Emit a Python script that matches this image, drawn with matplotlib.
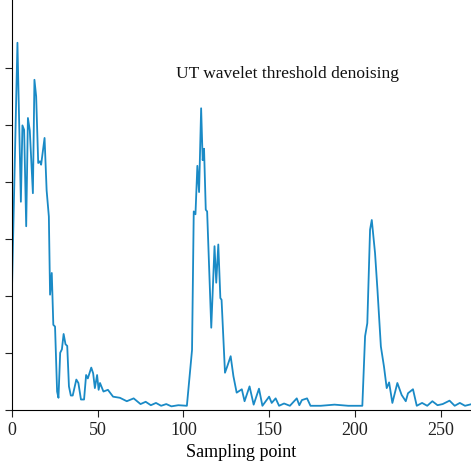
import matplotlib.pyplot as plt

# sample index and denoised amplitude
sample = [0, 3.3, 5.3, 6.2, 7.2, 8.4, 9.4, 10.5, 12.3, 13.2, 14.2, 15.4, 16.4, 17.1,
          19.1, 20.3, 21.6, 22.3, 23.3, 24.2, 25.2, 26.4, 27.2, 28.2, 29.2, 30.2,
          31.3, 32.3, 33.3, 34.4, 35.5, 37.6, 38.8, 40.3, 42.1, 43.3, 44.3, 46.3,
          47.4, 48.4, 49.7, 50.6, 51.4, 53.4, 56, 59, 63, 67, 71, 75, 78, 81, 84,
          87, 90, 93, 97, 102,
          105, 106, 107, 108.1, 109.1, 110.3, 111.2, 112, 113, 113.8, 116.2, 118.1,
          119.1, 120.3, 121.5, 122.2, 124.2, 125.5, 127.5, 129.1, 131, 134, 135.6,
          138.5, 140.9, 144, 146, 149.9, 151.4, 153.7, 155.7, 158.6, 162, 166, 167.5,
          169, 172, 174, 180, 188, 196, 204.2,
          205.8, 207.1, 208.7, 209.7, 211.6, 213, 215, 216.8, 218.4, 219.8, 221.7,
          224.6, 227.1, 229.5, 230.8, 233.7, 235.9, 239, 242, 245, 248, 251, 255,
          258, 261, 264, 268]
amplitude = [1.96, 6.44, 3.65, 4.99, 4.91, 3.22, 5.12, 4.9, 3.8, 5.79, 5.5, 4.33, 4.36, 4.3,
             4.77, 3.85, 3.39, 2.02, 2.40, 1.49, 1.46, 0.32, 0.21, 1.0, 1.06, 1.33,
             1.15, 1.12, 0.41, 0.25, 0.25, 0.53, 0.47, 0.18, 0.18, 0.61, 0.55, 0.74,
             0.64, 0.38, 0.61, 0.35, 0.47, 0.32, 0.35, 0.23, 0.21, 0.15, 0.2, 0.1, 0.14,
             0.08, 0.12, 0.07, 0.1, 0.06, 0.08, 0.07,
             1.05, 3.48, 3.43, 4.28, 3.82, 5.29, 4.38, 4.58, 3.51, 3.48, 1.44, 2.87,
             2.23, 2.9, 1.96, 1.93, 0.65, 0.76, 0.94, 0.59, 0.3, 0.36, 0.15,
             0.41, 0.09, 0.37, 0.07, 0.23, 0.12, 0.2, 0.07, 0.11, 0.07, 0.2, 0.08,
             0.17, 0.2, 0.07, 0.07, 0.09, 0.07, 0.07,
             1.29, 1.52, 3.16, 3.33, 2.75, 2.11, 1.11, 0.76, 0.38, 0.48, 0.12,
             0.47, 0.26, 0.15, 0.29, 0.36, 0.07, 0.12, 0.07, 0.15, 0.08, 0.1, 0.16,
             0.07, 0.12, 0.07, 0.1]

LINE = "#1a8ac6"
SERIF = ["Liberation Serif", "DejaVu Serif"]

fig = plt.figure(figsize=(4.71, 4.71), dpi=100)
ax = fig.add_axes([0.025, 0.13, 0.975, 0.87])
ax.plot(sample, amplitude, color=LINE, linewidth=1.3)
ax.set_xlim(0, 267.5)
ax.set_ylim(0, 7.19)
ax.set_xticks([0, 50, 100, 150, 200, 250])
ax.set_yticks([0, 1, 2, 3, 4, 5, 6])
ax.set_yticklabels([])
for side in ("top", "right"):
    ax.spines[side].set_visible(False)
ax.tick_params(direction="out", length=5, labelsize=13, colors="#222222")
for lbl in ax.get_xticklabels():
    lbl.set_family(SERIF)
ax.set_xlabel("Sampling point", fontsize=13, family=SERIF, labelpad=4)
ax.text(0.357, 0.82, "UT wavelet threshold denoising", transform=ax.transAxes,
        fontsize=12.5, family=SERIF, color="#111111", va="center")
fig.savefig("out.png", dpi=100)
